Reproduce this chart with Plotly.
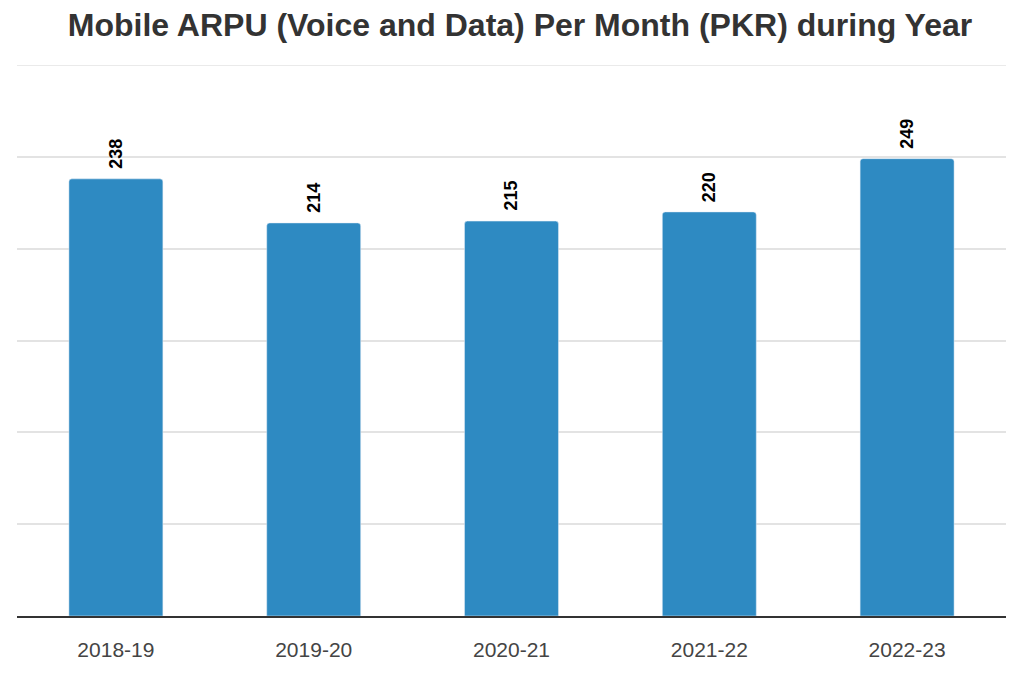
import plotly.graph_objects as go

years = ["2018-19", "2019-20", "2020-21", "2021-22", "2022-23"]
arpu = [238, 214, 215, 220, 249]

# the page body has an 8px margin, so margins are shifted to compensate
fig = go.Figure()
fig.add_trace(go.Bar(
    x=years, y=arpu,
    marker=dict(color="#2E8AC2", cornerradius=3),
    hoverinfo="x+y",
))

for yr, v in zip(years, arpu):
    fig.add_annotation(
        x=yr, y=v, text="<b>%d</b>" % v,
        textangle=-90, showarrow=False,
        xanchor="center", yanchor="bottom", yshift=8,
        font=dict(family="Liberation Sans, Arial", size=18, color="#000000"),
    )

fig.add_shape(type="line", xref="paper", yref="y", x0=0, x1=1, y0=300, y1=300,
              line=dict(color="#e3e3e3", width=1.5), layer="below")

fig.update_layout(
    width=1024, height=683,
    title=dict(
        text="<b>Mobile ARPU (Voice and Data) Per Month (PKR) during Year</b>",
        x=0.5, xanchor="center", y=1, yanchor="top", pad=dict(t=6),
        font=dict(family="Liberation Sans, Arial", size=32, color="#333333"),
    ),
    margin=dict(l=9, r=26, t=57, b=75),
    plot_bgcolor="white", paper_bgcolor="white",
    bargap=0.525,
    showlegend=False,
)
fig.update_xaxes(
    showline=True, linecolor="#333333", linewidth=1.5,
    ticks="", tickfont=dict(family="Liberation Sans, Arial", size=21, color="#444444"),
    ticklabelstandoff=14,
)
fig.update_yaxes(
    range=[0, 300], dtick=50, showticklabels=False,
    gridcolor="#e3e3e3", gridwidth=1.5, zeroline=False,
)

fig.write_html("out.html")
